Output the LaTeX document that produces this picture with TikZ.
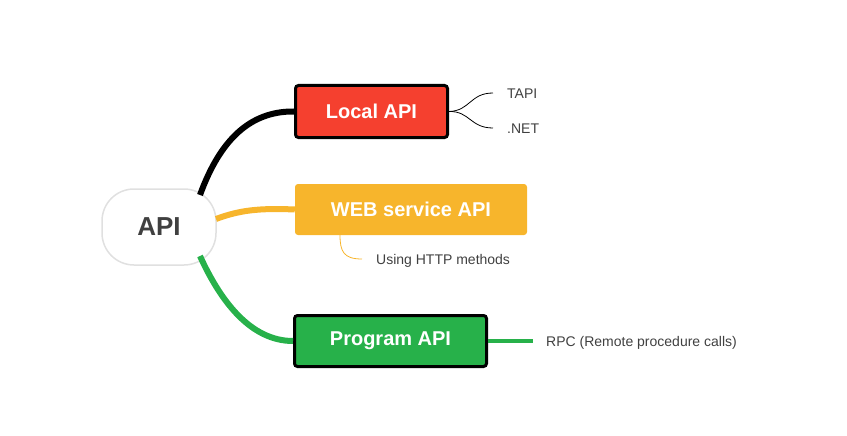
\documentclass[tikz,border=0pt]{standalone}
\usepackage{fontspec}
\setmainfont{Liberation Sans}
\begin{document}
\begin{tikzpicture}[x=1pt,y=-1pt,
  box/.style={rounded corners=3pt,text=white,font=\bfseries\fontsize{20}{24}\selectfont,inner sep=0pt},
  leaf/.style={anchor=west,text=black!75,font=\fontsize{14}{16}\selectfont,inner sep=0pt}]
\definecolor{cred}{HTML}{F5402F}
\definecolor{corange}{HTML}{F7B52C}
\definecolor{cgreen}{HTML}{27B14A}
\useasboundingbox (0,0) rectangle (847,436);
\node[draw=black!12,line width=1.5pt,fill=white,rounded corners=32pt,minimum width=114pt,minimum height=76pt,font=\bfseries\fontsize{26}{30}\selectfont,text=black!75] (api) at (159,227) {API};
\node[box,fill=cred,draw=black,line width=3pt,minimum width=152pt,minimum height=52pt] (loc) at (371.5,111.5) {Local API};
\node[box,fill=corange,minimum width=232pt,minimum height=51pt] (web) at (411,209.5) {WEB service API};
\node[box,fill=cgreen,draw=black,line width=3pt,minimum width=192pt,minimum height=51pt] (prog) at (390.5,341) {Program API};
\coordinate (a1) at (200,195);
\coordinate (a2) at (216,219);
\coordinate (a3) at (200,256);
\draw[line width=6pt] (a1) .. controls (220,140) and (250,111) .. (loc.west);
\draw[corange,line width=6pt] (a2) .. controls (240,210) and (260,208) .. (web.west);
\draw[cgreen,line width=6pt] (a3) .. controls (220,300) and (250,341) .. (prog.west);
\node[leaf] (tapi) at (507,94) {TAPI};
\node[leaf] (net) at (507,129) {.NET};
\coordinate (t1) at (493,93);
\coordinate (n1) at (493,128);
\draw[line width=0.8pt] (loc.east) .. controls (470,111) and (470,93) .. (t1);
\draw[line width=0.8pt] (loc.east) .. controls (470,111) and (470,128) .. (n1);
\node[leaf] (http) at (376,261) {Using HTTP methods};
\coordinate (w0) at (340,235);
\coordinate (w1) at (362,259);
\draw[corange,line width=0.8pt] (w0) .. controls (340,252) and (344,259) .. (w1);
\node[leaf] (rpc) at (546,343) {RPC (Remote procedure calls)};
\coordinate (r1) at (533,341);
\draw[cgreen,line width=4pt] (prog.east) -- (r1);
\end{tikzpicture}
\end{document}
